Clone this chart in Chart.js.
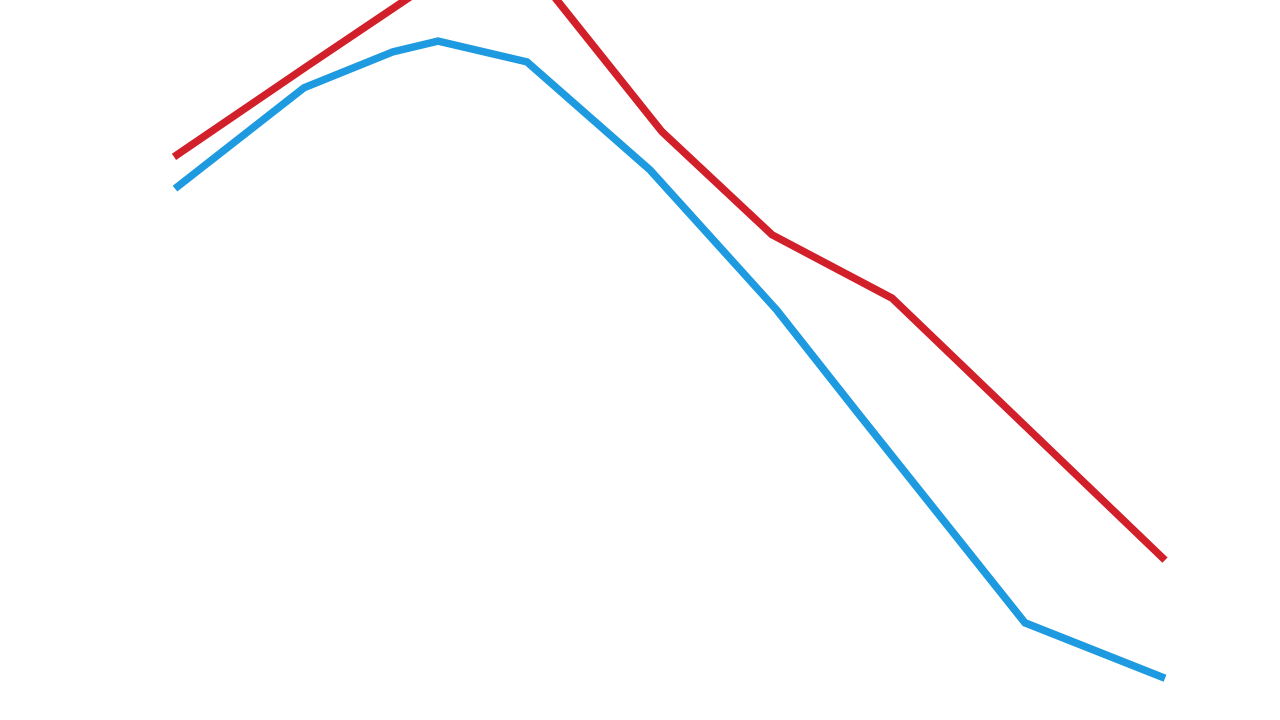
<!DOCTYPE html>
<html>
<head>
<meta charset="utf-8">
<title>Two lines</title>
<script src="https://cdn.jsdelivr.net/npm/chart.js@4/dist/chart.umd.min.js"></script>
<style>
    html, body { margin: 0; padding: 0; background: #ffffff; }
    .chart-box { width: 1280px; height: 720px; position: relative; }
</style>
</head>
<body>
<div class="chart-box">
    <canvas id="lineChart"></canvas>
</div>
<script>
// Values (x on a 0-128 scale, y on a 0-100 scale)
const blueX = [17.5, 30.4, 39.3, 43.8, 52.7, 65.0, 77.7, 85.7, 102.5, 116.5];
const blueY = [73.8, 87.8, 92.8, 94.3, 91.4, 76.4, 56.9, 42.8, 13.5, 5.8];

// red peak runs past the top of the frame
const redX = [17.4, 30.7, 50.4, 66.2, 77.2, 89.2, 116.5];
const redY = [78.2, 90.8, 109.2, 81.7, 67.4, 58.6, 22.2];

const toPoints = (xs, ys) => xs.map((x, i) => ({ x: x, y: ys[i] }));

new Chart(document.getElementById('lineChart'), {
    type: 'line',
    data: {
        datasets: [
            {
                label: 'Red',
                data: toPoints(redX, redY),
                borderColor: '#d2202a',
                borderWidth: 7.5,
                pointRadius: 0,
                tension: 0,
                fill: false
            },
            {
                label: 'Blue',
                data: toPoints(blueX, blueY),
                borderColor: '#1e9be0',
                borderWidth: 7.5,
                pointRadius: 0,
                tension: 0,
                fill: false
            }
        ]
    },
    options: {
        responsive: true,
        maintainAspectRatio: false,
        animation: false,
        layout: { padding: 0 },
        plugins: {
            legend: { display: false },
            tooltip: { enabled: false }
        },
        scales: {
            x: { type: 'linear', min: 0, max: 128, display: false },
            y: { min: 0, max: 100, display: false }
        }
    }
});
</script>
</body>
</html>
